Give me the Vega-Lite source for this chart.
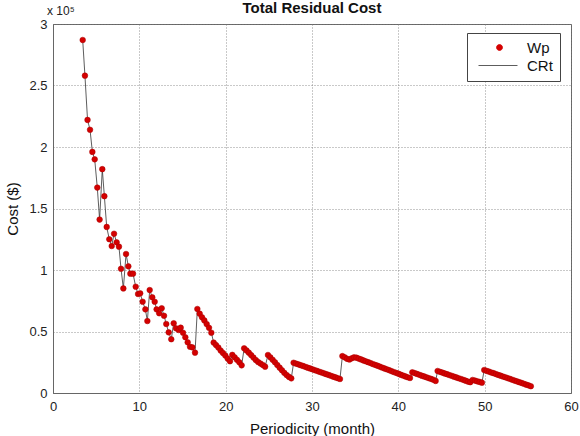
{
  "$schema": "https://vega.github.io/schema/vega-lite/v6.json",
  "width": 518,
  "height": 369,
  "autosize": {"type": "none"},
  "padding": {"left": 53, "top": 24, "right": 9, "bottom": 43},
  "background": "white",
  "config": {
    "font": "Liberation Sans",
    "view": {"stroke": "#666666", "strokeWidth": 1},
    "axis": {
      "labelFont": "Liberation Sans",
      "titleFont": "Liberation Sans",
      "labelFontSize": 13,
      "labelColor": "#222222",
      "titleFontSize": 15,
      "titleFontWeight": "normal",
      "titleColor": "#111111",
      "domainColor": "#666666",
      "ticks": false,
      "grid": true,
      "gridColor": "#777777",
      "gridDash": [1, 2],
      "gridWidth": 0.8,
      "gridOpacity": 1
    }
  },
  "title": {
    "text": "Total Residual Cost",
    "fontSize": 15,
    "fontWeight": "bold",
    "font": "Liberation Sans",
    "color": "#111111",
    "anchor": "middle",
    "frame": "group",
    "baseline": "bottom",
    "offset": 0,
    "dy": 26
  },
  "data": {
    "values": [
      {"t": 3.44, "cost": 287000}, {"t": 3.70, "cost": 258000}, {"t": 4.00, "cost": 222000},
      {"t": 4.29, "cost": 214000}, {"t": 4.56, "cost": 196000}, {"t": 4.83, "cost": 190000},
      {"t": 5.13, "cost": 167000}, {"t": 5.40, "cost": 141000}, {"t": 5.71, "cost": 182000},
      {"t": 5.95, "cost": 160000}, {"t": 6.22, "cost": 135000}, {"t": 6.52, "cost": 125000},
      {"t": 6.80, "cost": 119500}, {"t": 7.07, "cost": 129500}, {"t": 7.37, "cost": 122500},
      {"t": 7.64, "cost": 119000}, {"t": 7.88, "cost": 101000}, {"t": 8.15, "cost": 85000},
      {"t": 8.46, "cost": 113000}, {"t": 8.73, "cost": 103000}, {"t": 8.96, "cost": 97000},
      {"t": 9.27, "cost": 97000}, {"t": 9.58, "cost": 86400}, {"t": 9.85, "cost": 80500},
      {"t": 10.10, "cost": 81000}, {"t": 10.38, "cost": 74200}, {"t": 10.70, "cost": 68000},
      {"t": 10.93, "cost": 58500}, {"t": 11.20, "cost": 83700}, {"t": 11.50, "cost": 77800},
      {"t": 11.78, "cost": 74200}, {"t": 12.00, "cost": 68000}, {"t": 12.30, "cost": 64800},
      {"t": 12.59, "cost": 68900}, {"t": 12.86, "cost": 62800}, {"t": 13.12, "cost": 56100},
      {"t": 13.40, "cost": 49300}, {"t": 13.70, "cost": 43700}, {"t": 13.98, "cost": 56700},
      {"t": 14.25, "cost": 52600}, {"t": 14.56, "cost": 51200}, {"t": 14.79, "cost": 53100},
      {"t": 15.06, "cost": 49000}, {"t": 15.33, "cost": 45300}, {"t": 15.60, "cost": 41200},
      {"t": 15.87, "cost": 37600}, {"t": 16.14, "cost": 37100}, {"t": 16.45, "cost": 32800},
      {"t": 16.72, "cost": 68300}, {"t": 16.99, "cost": 64500}, {"t": 17.26, "cost": 61500},
      {"t": 17.53, "cost": 59000}, {"t": 17.80, "cost": 56000}, {"t": 18.07, "cost": 53000},
      {"t": 18.34, "cost": 49000}, {"t": 18.61, "cost": 41000}, {"t": 18.88, "cost": 39000},
      {"t": 19.15, "cost": 37000}, {"t": 19.42, "cost": 34500}, {"t": 19.69, "cost": 32500},
      {"t": 19.96, "cost": 30500}, {"t": 20.23, "cost": 28000}, {"t": 20.50, "cost": 25800},
      {"t": 20.77, "cost": 31000}, {"t": 21.04, "cost": 29000}, {"t": 21.31, "cost": 27000},
      {"t": 21.58, "cost": 25000}, {"t": 21.85, "cost": 22500}, {"t": 22.14, "cost": 36300},
      {"t": 22.41, "cost": 34600}, {"t": 22.68, "cost": 32800}, {"t": 22.95, "cost": 30800},
      {"t": 23.22, "cost": 28800}, {"t": 23.49, "cost": 26800}, {"t": 23.76, "cost": 25200},
      {"t": 24.03, "cost": 24000}, {"t": 24.30, "cost": 22800}, {"t": 24.57, "cost": 21400},
      {"t": 24.90, "cost": 30900}, {"t": 25.17, "cost": 29000}, {"t": 25.44, "cost": 27000},
      {"t": 25.71, "cost": 25000}, {"t": 25.98, "cost": 22800}, {"t": 26.25, "cost": 20600},
      {"t": 26.52, "cost": 18500}, {"t": 26.79, "cost": 16400}, {"t": 27.06, "cost": 14600},
      {"t": 27.33, "cost": 13100}, {"t": 27.60, "cost": 11900}, {"t": 27.87, "cost": 24600},
      {"t": 28.14, "cost": 23900}, {"t": 28.41, "cost": 23300}, {"t": 28.68, "cost": 22600},
      {"t": 28.95, "cost": 22000}, {"t": 29.22, "cost": 21300}, {"t": 29.49, "cost": 20600},
      {"t": 29.76, "cost": 20000}, {"t": 30.03, "cost": 19300}, {"t": 30.30, "cost": 18600},
      {"t": 30.57, "cost": 18000}, {"t": 30.84, "cost": 17300}, {"t": 31.11, "cost": 16700},
      {"t": 31.38, "cost": 16000}, {"t": 31.65, "cost": 15300}, {"t": 31.92, "cost": 14700},
      {"t": 32.19, "cost": 14000}, {"t": 32.46, "cost": 13300}, {"t": 32.73, "cost": 12700},
      {"t": 33.00, "cost": 12000}, {"t": 33.24, "cost": 11400}, {"t": 33.52, "cost": 30000},
      {"t": 33.79, "cost": 29000}, {"t": 34.06, "cost": 27800}, {"t": 34.33, "cost": 27200},
      {"t": 34.60, "cost": 28200}, {"t": 34.87, "cost": 29000}, {"t": 35.14, "cost": 28700},
      {"t": 35.41, "cost": 28000}, {"t": 35.68, "cost": 27300}, {"t": 35.95, "cost": 26500},
      {"t": 36.22, "cost": 25800}, {"t": 36.49, "cost": 25100}, {"t": 36.76, "cost": 24400},
      {"t": 37.03, "cost": 23600}, {"t": 37.30, "cost": 22900}, {"t": 37.57, "cost": 22200},
      {"t": 37.84, "cost": 21500}, {"t": 38.11, "cost": 20700}, {"t": 38.38, "cost": 20000},
      {"t": 38.65, "cost": 19300}, {"t": 38.92, "cost": 18600}, {"t": 39.19, "cost": 17800},
      {"t": 39.46, "cost": 17100}, {"t": 39.73, "cost": 16400}, {"t": 40.00, "cost": 15700},
      {"t": 40.27, "cost": 14900}, {"t": 40.54, "cost": 14200}, {"t": 40.81, "cost": 13500},
      {"t": 41.08, "cost": 12800}, {"t": 41.35, "cost": 12200}, {"t": 41.62, "cost": 16800},
      {"t": 41.89, "cost": 16200}, {"t": 42.16, "cost": 15500}, {"t": 42.43, "cost": 14800},
      {"t": 42.70, "cost": 14100}, {"t": 42.97, "cost": 13500}, {"t": 43.24, "cost": 12800},
      {"t": 43.51, "cost": 12100}, {"t": 43.78, "cost": 11500}, {"t": 44.05, "cost": 10800},
      {"t": 44.32, "cost": 9800}, {"t": 44.55, "cost": 17900}, {"t": 44.82, "cost": 17200},
      {"t": 45.09, "cost": 16600}, {"t": 45.36, "cost": 15900}, {"t": 45.63, "cost": 15300},
      {"t": 45.90, "cost": 14600}, {"t": 46.17, "cost": 14000}, {"t": 46.44, "cost": 13300},
      {"t": 46.71, "cost": 12700}, {"t": 46.98, "cost": 12000}, {"t": 47.25, "cost": 11400},
      {"t": 47.52, "cost": 10700}, {"t": 47.79, "cost": 10000}, {"t": 48.06, "cost": 9300},
      {"t": 48.33, "cost": 8800}, {"t": 48.60, "cost": 10600}, {"t": 48.87, "cost": 10100},
      {"t": 49.14, "cost": 9500}, {"t": 49.41, "cost": 9000}, {"t": 49.68, "cost": 8400},
      {"t": 49.95, "cost": 18700}, {"t": 50.22, "cost": 18000}, {"t": 50.49, "cost": 17400},
      {"t": 50.76, "cost": 16700}, {"t": 51.03, "cost": 16100}, {"t": 51.30, "cost": 15400},
      {"t": 51.57, "cost": 14700}, {"t": 51.84, "cost": 14100}, {"t": 52.11, "cost": 13400},
      {"t": 52.38, "cost": 12800}, {"t": 52.65, "cost": 12100}, {"t": 52.92, "cost": 11500},
      {"t": 53.19, "cost": 10800}, {"t": 53.46, "cost": 10100}, {"t": 53.73, "cost": 9500},
      {"t": 54.00, "cost": 8800}, {"t": 54.27, "cost": 8200}, {"t": 54.54, "cost": 7500},
      {"t": 54.81, "cost": 6800}, {"t": 55.08, "cost": 6200}, {"t": 55.35, "cost": 5500}
    ]
  },
  "encoding": {
    "x": {
      "field": "t",
      "type": "quantitative",
      "scale": {"domain": [0, 60], "nice": false, "zero": false},
      "axis": {"values": [0, 10, 20, 30, 40, 50, 60], "title": "Periodicity (month)", "labelPadding": 7, "titlePadding": 8, "labelFlush": false}
    },
    "y": {
      "field": "cost",
      "type": "quantitative",
      "scale": {"domain": [0, 300000], "nice": false},
      "axis": {"values": [0, 50000, 100000, 150000, 200000, 250000, 300000], "labelExpr": "datum.value / 100000", "title": "Cost ($)", "labelPadding": 6, "titlePadding": 8, "labelFlush": false}
    }
  },
  "layer": [
    {
      "mark": {"type": "line", "strokeWidth": 0.8},
      "encoding": {
        "color": {
          "datum": "CRt",
          "scale": {"domain": ["Wp", "CRt"], "range": ["#d40000", "#333333"]},
          "legend": {
            "title": null,
            "orient": "none",
            "legendX": 414,
            "legendY": 9,
            "padding": 7,
            "rowPadding": 2,
            "strokeColor": "#444444",
            "fillColor": "white",
            "labelFont": "Liberation Sans",
            "labelFontSize": 15,
            "labelColor": "#111111",
            "labelOffset": 38,
            "symbolSize": 30,
            "encode": {
              "symbols": {
                "update": {
                  "shape": {"signal": "datum.value === 'Wp' ? 'M4.53,0A0.9,0.9,0,1,1,6.33,0A0.9,0.9,0,1,1,4.53,0Z' : 'M-0.9,0H10.85'"},
                  "size": {"value": 44},
                  "fill": {"signal": "datum.value === 'Wp' ? '#d40000' : 'transparent'"},
                  "stroke": {"signal": "datum.value === 'Wp' ? '#b00000' : '#333333'"},
                  "strokeWidth": {"value": 0.8},
                  "opacity": {"value": 1}
                }
              }
            }
          }
        }
      }
    },
    {
      "mark": {"type": "point", "filled": true, "size": 32, "opacity": 1, "stroke": "#a80000", "strokeWidth": 0.5},
      "encoding": {
        "color": {"datum": "Wp"}
      }
    },
    {
      "data": {"values": [{"t": 0, "cost": 300000}]},
      "mark": {"type": "text", "text": "x 10⁵", "align": "left", "baseline": "bottom", "fontSize": 12, "font": "Liberation Sans", "color": "#222222", "dx": -6, "dy": -6, "clip": false},
      "encoding": {
        "x": {"field": "t", "type": "quantitative"},
        "y": {"field": "cost", "type": "quantitative"},
        "color": {"value": "#222222"}
      }
    }
  ]
}
